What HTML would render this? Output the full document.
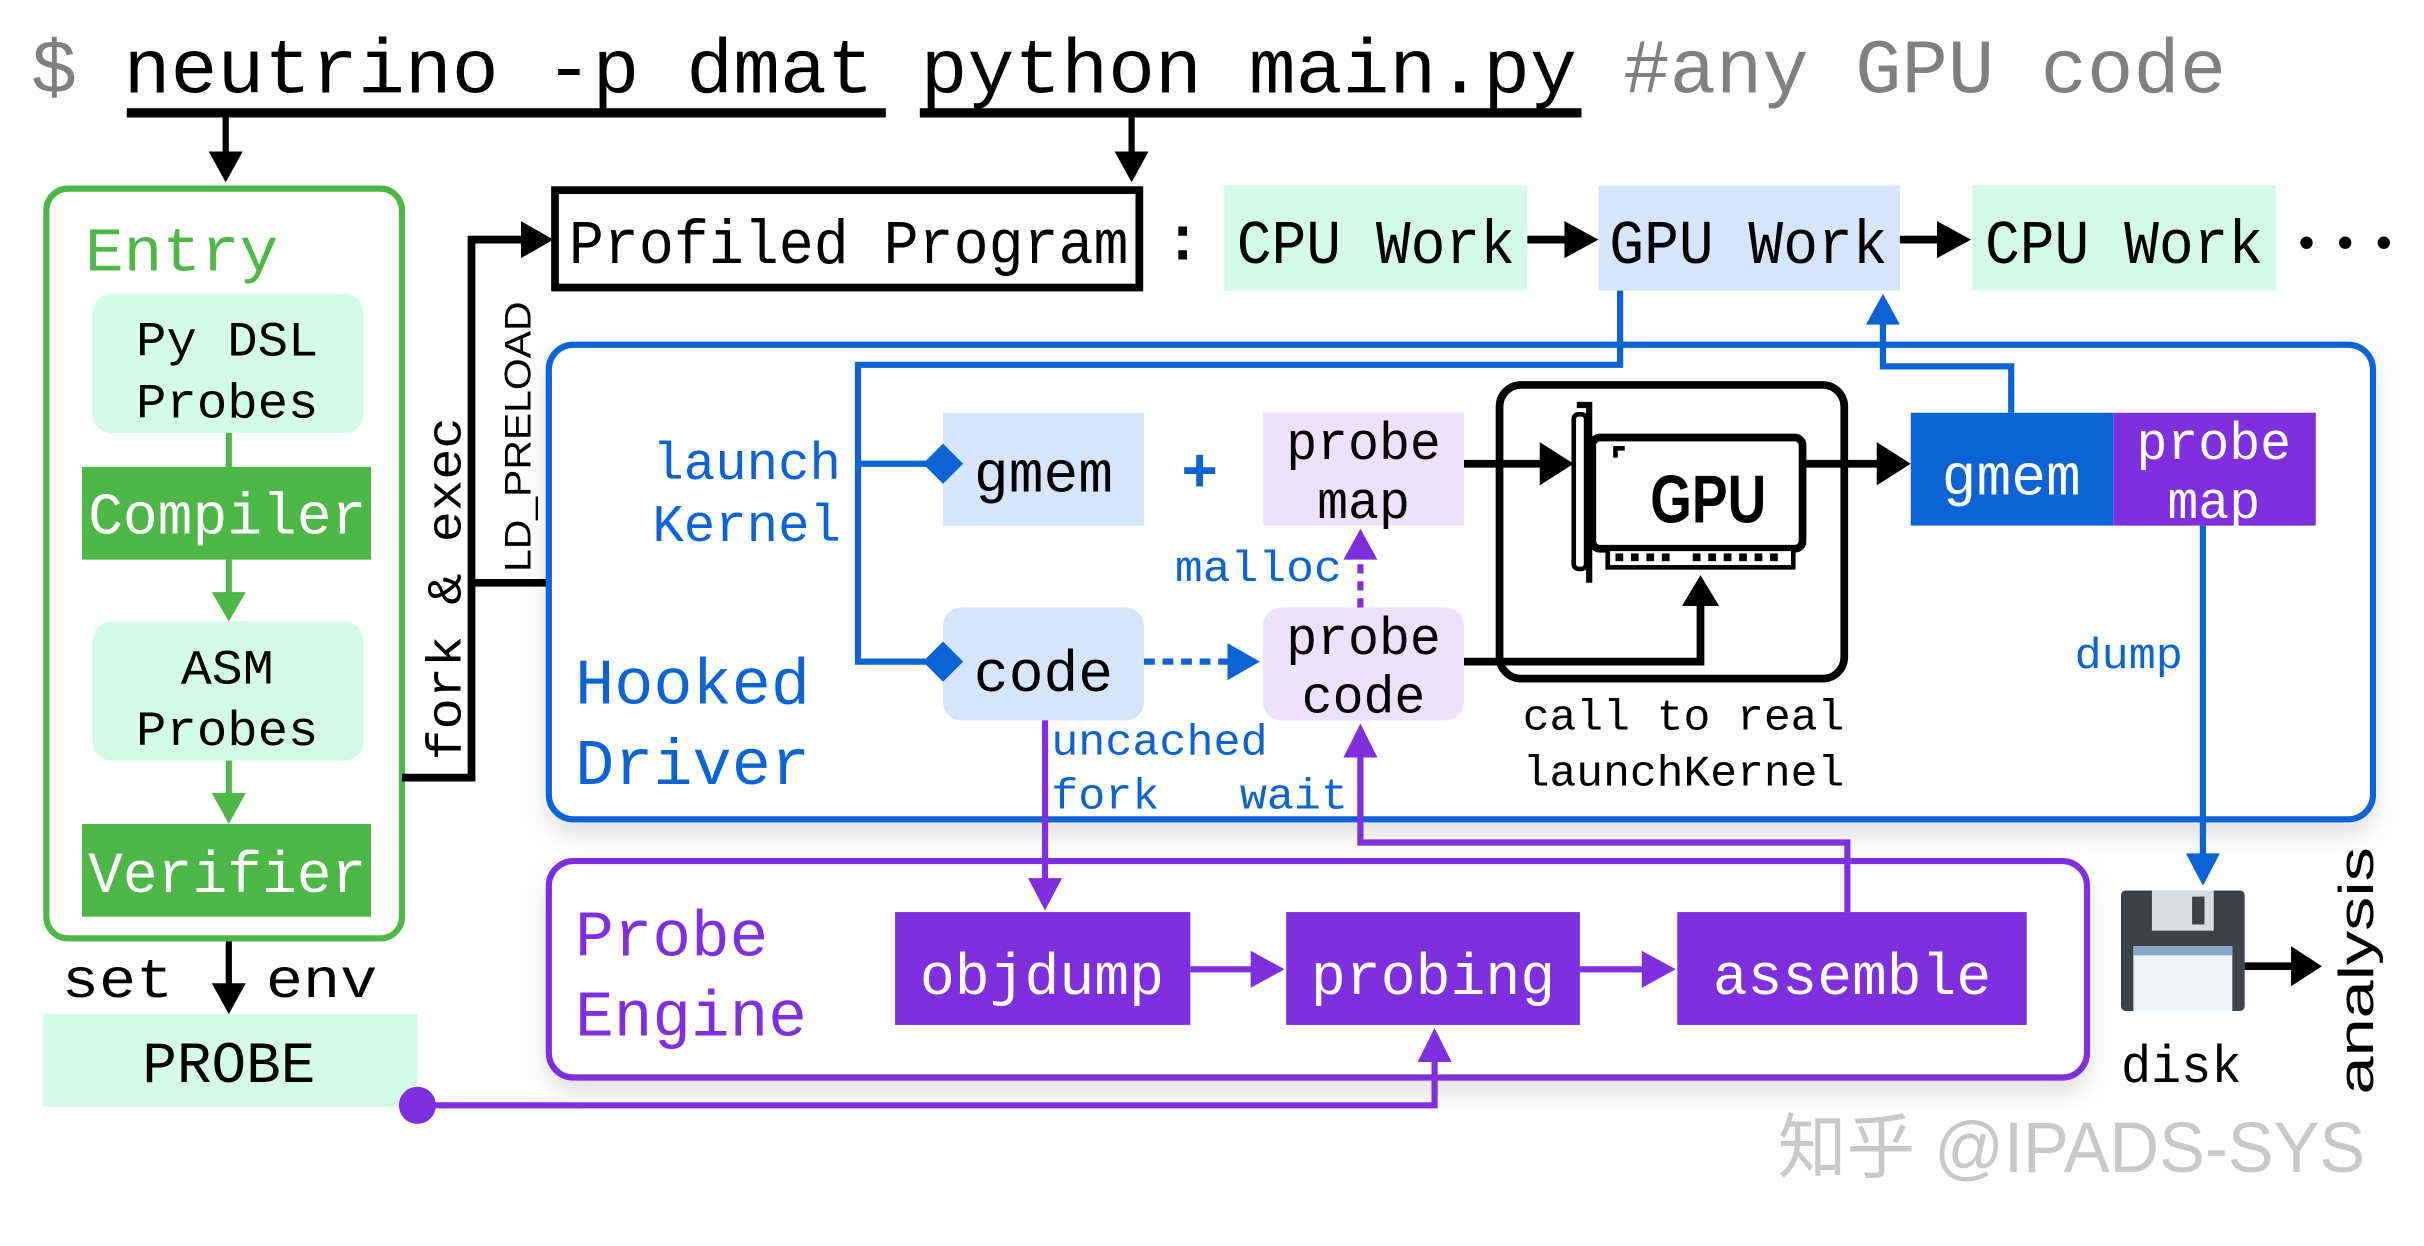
<!DOCTYPE html>
<html><head><meta charset="utf-8"><style>
html,body{margin:0;padding:0;background:#fff;}
svg{display:block;}
text{font-family:"Liberation Mono","DejaVu Sans Mono",monospace;}
</style></head><body>
<svg width="2424" height="1246" viewBox="0 0 1568 806" xmlns="http://www.w3.org/2000/svg">
<defs>
<filter id="sh" x="-5%" y="-5%" width="110%" height="120%"><feDropShadow dx="0" dy="8" stdDeviation="8" flood-color="#000" flood-opacity="0.12"/></filter>
</defs>
<!-- title -->
<text x="20" y="60" font-size="50" fill="#808080">$</text>
<text x="80" y="60" font-size="50" fill="#000" textLength="940" lengthAdjust="spacingAndGlyphs">neutrino -p dmat python main.py</text>
<text x="1050" y="60" font-size="50" fill="#808080" textLength="390" lengthAdjust="spacingAndGlyphs">#any GPU code</text>
<rect x="82" y="70" width="491" height="6" fill="#000"/>
<rect x="595" y="70" width="428" height="6" fill="#000"/>
<line x1="146" y1="76" x2="146" y2="100" stroke="#000" stroke-width="4"/>
<polygon points="135,98 157,98 146,118" fill="#000"/>
<line x1="732" y1="76" x2="732" y2="100" stroke="#000" stroke-width="4"/>
<polygon points="721,98 743,98 732,118" fill="#000"/>

<!-- Entry -->
<rect x="30" y="122" width="230" height="485" rx="14" fill="#fff" stroke="#4db748" stroke-width="4"/>
<text x="55" y="175" font-size="40" fill="#4db748" textLength="125" lengthAdjust="spacingAndGlyphs">Entry</text>
<rect x="60" y="190" width="175" height="90" rx="12" fill="#d4fbe9"/>
<text x="147" y="230" font-size="32" text-anchor="middle" textLength="118" lengthAdjust="spacingAndGlyphs">Py DSL</text>
<text x="147" y="270" font-size="32" text-anchor="middle" textLength="118" lengthAdjust="spacingAndGlyphs">Probes</text>
<line x1="148" y1="280" x2="148" y2="302" stroke="#4db748" stroke-width="4"/>
<rect x="53" y="302" width="187" height="60" fill="#4db748"/>
<text x="147" y="345" font-size="38" fill="#fff" text-anchor="middle" textLength="180" lengthAdjust="spacingAndGlyphs">Compiler</text>
<line x1="148" y1="362" x2="148" y2="385" stroke="#4db748" stroke-width="4"/>
<polygon points="137,383 159,383 148,402" fill="#4db748"/>
<rect x="60" y="402" width="175" height="90" rx="12" fill="#d4fbe9"/>
<text x="147" y="442" font-size="32" text-anchor="middle" textLength="60" lengthAdjust="spacingAndGlyphs">ASM</text>
<text x="147" y="482" font-size="32" text-anchor="middle" textLength="118" lengthAdjust="spacingAndGlyphs">Probes</text>
<line x1="148" y1="492" x2="148" y2="515" stroke="#4db748" stroke-width="4"/>
<polygon points="137,513 159,513 148,533" fill="#4db748"/>
<rect x="53" y="533" width="187" height="60" fill="#4db748"/>
<text x="147" y="577" font-size="38" fill="#fff" text-anchor="middle" textLength="180" lengthAdjust="spacingAndGlyphs">Verifier</text>

<text x="40" y="645" font-size="36" textLength="72" lengthAdjust="spacingAndGlyphs">set</text>
<text x="172" y="645" font-size="36" textLength="72" lengthAdjust="spacingAndGlyphs">env</text>
<line x1="148" y1="609" x2="148" y2="638" stroke="#000" stroke-width="4"/>
<polygon points="137,636 159,636 148,656" fill="#000"/>
<rect x="28" y="656" width="242" height="60" fill="#d4fbe9"/>
<text x="148" y="700" font-size="38" text-anchor="middle" textLength="112" lengthAdjust="spacingAndGlyphs">PROBE</text>

<!-- fork & exec -->
<polyline points="260,503 305,503 305,155 340,155" fill="none" stroke="#000" stroke-width="5"/>
<polygon points="337,143 358,155 337,167" fill="#000"/>
<line x1="305" y1="377" x2="356" y2="377" stroke="#000" stroke-width="5"/>
<text transform="translate(298,492) rotate(-90)" font-size="32" textLength="222" lengthAdjust="spacingAndGlyphs">fork &amp; exec</text>
<text transform="translate(343,370) rotate(-90)" font-size="24" style="font-family:'Liberation Sans',sans-serif" textLength="175" lengthAdjust="spacingAndGlyphs">LD_PRELOAD</text>

<!-- top row -->
<rect x="359" y="123" width="378" height="63" fill="#fff" stroke="#000" stroke-width="5"/>
<text x="368" y="170" font-size="40" textLength="362" lengthAdjust="spacingAndGlyphs">Profiled Program</text>
<text x="753" y="168" font-size="40" font-weight="bold">:</text>
<rect x="792" y="120" width="196" height="68" fill="#d4fbe9"/>
<text x="890" y="170" font-size="40" text-anchor="middle" textLength="180" lengthAdjust="spacingAndGlyphs">CPU Work</text>
<rect x="1034" y="120" width="195" height="68" fill="#d7e5fb"/>
<text x="1131" y="170" font-size="40" text-anchor="middle" textLength="180" lengthAdjust="spacingAndGlyphs">GPU Work</text>
<rect x="1276" y="120" width="196" height="68" fill="#d4fbe9"/>
<text x="1374" y="170" font-size="40" text-anchor="middle" textLength="180" lengthAdjust="spacingAndGlyphs">CPU Work</text>
<line x1="988" y1="155" x2="1015" y2="155" stroke="#000" stroke-width="5"/>
<polygon points="1012,143 1034,155 1012,167" fill="#000"/>
<line x1="1229" y1="155" x2="1256" y2="155" stroke="#000" stroke-width="5"/>
<polygon points="1253,143 1275,155 1253,167" fill="#000"/>
<circle cx="1492" cy="157" r="4"/><circle cx="1517" cy="157" r="4"/><circle cx="1542" cy="157" r="4"/>

<!-- Hooked Driver -->
<rect x="355" y="223" width="1180" height="307" rx="16" fill="#fff" stroke="#0b63d6" stroke-width="4" filter="url(#sh)"/>
<text x="372" y="455" font-size="42" fill="#0b63d6" textLength="152" lengthAdjust="spacingAndGlyphs">Hooked</text>
<text x="372" y="507" font-size="42" fill="#0b63d6" textLength="152" lengthAdjust="spacingAndGlyphs">Driver</text>
<text x="422" y="310" font-size="34" fill="#0b63d6" textLength="122" lengthAdjust="spacingAndGlyphs">launch</text>
<text x="422" y="350" font-size="34" fill="#0b63d6" textLength="122" lengthAdjust="spacingAndGlyphs">Kernel</text>
<polyline points="1048,188 1048,236 555,236 555,428 600,428" fill="none" stroke="#0b63d6" stroke-width="4"/>
<line x1="555" y1="300" x2="600" y2="300" stroke="#0b63d6" stroke-width="4"/>

<rect x="610" y="267" width="130" height="73" fill="#d7e5fb"/>
<text x="675" y="318" font-size="38" text-anchor="middle" textLength="90" lengthAdjust="spacingAndGlyphs">gmem</text>
<text x="776" y="318" font-size="40" fill="#0b63d6" text-anchor="middle" font-weight="bold">+</text>
<rect x="817" y="267" width="130" height="73" fill="#ede1fb"/>
<text x="882" y="297" font-size="34" text-anchor="middle" textLength="100" lengthAdjust="spacingAndGlyphs">probe</text>
<text x="882" y="335" font-size="34" text-anchor="middle" textLength="60" lengthAdjust="spacingAndGlyphs">map</text>
<text x="760" y="376" font-size="28" fill="#0b63d6" textLength="108" lengthAdjust="spacingAndGlyphs">malloc</text>
<line x1="880" y1="393" x2="880" y2="358" stroke="#7f2fdd" stroke-width="4" stroke-dasharray="6,5"/>
<polygon points="869,362 891,362 880,342" fill="#7f2fdd"/>

<rect x="610" y="393" width="130" height="73" rx="12" fill="#d7e5fb"/>
<text x="675" y="447" font-size="38" text-anchor="middle" textLength="90" lengthAdjust="spacingAndGlyphs">code</text>
<polygon points="597,300 610,287 623,300 610,313" fill="#0b63d6"/>
<polygon points="597,428 610,415 623,428 610,441" fill="#0b63d6"/>
<line x1="740" y1="428" x2="795" y2="428" stroke="#0b63d6" stroke-width="4" stroke-dasharray="7,5"/>
<polygon points="794,416 815,428 794,440" fill="#0b63d6"/>
<rect x="817" y="393" width="130" height="73" rx="12" fill="#ede1fb"/>
<text x="882" y="423" font-size="34" text-anchor="middle" textLength="100" lengthAdjust="spacingAndGlyphs">probe</text>
<text x="882" y="461" font-size="34" text-anchor="middle" textLength="80" lengthAdjust="spacingAndGlyphs">code</text>

<!-- GPU box -->
<rect x="970" y="249" width="223" height="190" rx="14" fill="#fff" stroke="#000" stroke-width="5"/>
<line x1="947" y1="300" x2="1000" y2="300" stroke="#000" stroke-width="5"/>
<polygon points="996,286 1018,300 996,314" fill="#000"/>
<path d="M1020,262 h8 v115" fill="none" stroke="#000" stroke-width="4"/>
<rect x="1018" y="268" width="8" height="100" rx="3" fill="none" stroke="#000" stroke-width="3"/>
<rect x="1030" y="283" width="136" height="72" rx="5" fill="#fff" stroke="#000" stroke-width="5"/>
<path d="M1045,296 v-6 h6" fill="none" stroke="#000" stroke-width="3"/>
<rect x="1040" y="355" width="120" height="12" fill="#fff" stroke="#000" stroke-width="3"/>
<g fill="#000"><rect x="1045" y="358" width="5" height="5"/><rect x="1055" y="358" width="5" height="5"/><rect x="1065" y="358" width="5" height="5"/><rect x="1075" y="358" width="5" height="5"/><rect x="1095" y="358" width="5" height="5"/><rect x="1105" y="358" width="5" height="5"/><rect x="1115" y="358" width="5" height="5"/><rect x="1125" y="358" width="5" height="5"/><rect x="1135" y="358" width="5" height="5"/><rect x="1145" y="358" width="5" height="5"/></g>
<text x="1105" y="338" font-size="44" font-weight="bold" text-anchor="middle" style="font-family:'Liberation Sans',sans-serif" textLength="75" lengthAdjust="spacingAndGlyphs">GPU</text>
<polyline points="947,428 1100,428 1100,390" fill="none" stroke="#000" stroke-width="5"/>
<polygon points="1088,392 1112,392 1100,372" fill="#000"/>
<line x1="1166" y1="300" x2="1218" y2="300" stroke="#000" stroke-width="5"/>
<polygon points="1214,286 1236,300 1214,314" fill="#000"/>
<text x="985" y="472" font-size="28" textLength="208" lengthAdjust="spacingAndGlyphs">call to real</text>
<text x="985" y="508" font-size="28" textLength="208" lengthAdjust="spacingAndGlyphs">launchKernel</text>

<rect x="1236" y="267" width="131" height="73" fill="#0b63d6"/>
<text x="1301" y="320" font-size="38" fill="#fff" text-anchor="middle" textLength="90" lengthAdjust="spacingAndGlyphs">gmem</text>
<rect x="1367" y="267" width="131" height="73" fill="#7f2fdd"/>
<text x="1432" y="297" font-size="34" fill="#fff" text-anchor="middle" textLength="100" lengthAdjust="spacingAndGlyphs">probe</text>
<text x="1432" y="335" font-size="34" fill="#fff" text-anchor="middle" textLength="60" lengthAdjust="spacingAndGlyphs">map</text>
<polyline points="1301,267 1301,237 1218,237 1218,205" fill="none" stroke="#0b63d6" stroke-width="4"/>
<polygon points="1207,210 1229,210 1218,190" fill="#0b63d6"/>
<text x="1342" y="432" font-size="28" fill="#0b63d6" textLength="70" lengthAdjust="spacingAndGlyphs">dump</text>
<line x1="1425" y1="340" x2="1425" y2="555" stroke="#0b63d6" stroke-width="4"/>
<polygon points="1414,552 1436,552 1425,573" fill="#0b63d6"/>

<text x="680" y="488" font-size="28" fill="#0b63d6" textLength="140" lengthAdjust="spacingAndGlyphs">uncached</text>
<text x="680" y="523" font-size="28" fill="#0b63d6" textLength="70" lengthAdjust="spacingAndGlyphs">fork</text>
<text x="802" y="523" font-size="28" fill="#0b63d6" textLength="70" lengthAdjust="spacingAndGlyphs">wait</text>

<!-- Probe Engine -->
<rect x="355" y="557" width="995" height="140" rx="16" fill="#fff" stroke="#7f2fdd" stroke-width="4" filter="url(#sh)"/>
<text x="372" y="618" font-size="42" fill="#7f2fdd" textLength="125" lengthAdjust="spacingAndGlyphs">Probe</text>
<text x="372" y="670" font-size="42" fill="#7f2fdd" textLength="150" lengthAdjust="spacingAndGlyphs">Engine</text>
<polyline points="676,466 676,570" fill="none" stroke="#7f2fdd" stroke-width="4"/>
<polygon points="665,568 687,568 676,589" fill="#7f2fdd"/>
<polyline points="1195,590 1195,545 880,545 880,488" fill="none" stroke="#7f2fdd" stroke-width="4"/>
<polygon points="869,490 891,490 880,468" fill="#7f2fdd"/>
<rect x="579" y="590" width="191" height="73" fill="#7f2fdd"/>
<text x="674" y="643" font-size="38" fill="#fff" text-anchor="middle" textLength="158" lengthAdjust="spacingAndGlyphs">objdump</text>
<rect x="832" y="590" width="190" height="73" fill="#7f2fdd"/>
<text x="927" y="643" font-size="38" fill="#fff" text-anchor="middle" textLength="158" lengthAdjust="spacingAndGlyphs">probing</text>
<rect x="1085" y="590" width="226" height="73" fill="#7f2fdd"/>
<text x="1198" y="643" font-size="38" fill="#fff" text-anchor="middle" textLength="180" lengthAdjust="spacingAndGlyphs">assemble</text>
<line x1="770" y1="627" x2="812" y2="627" stroke="#7f2fdd" stroke-width="4"/>
<polygon points="809,615 831,627 809,639" fill="#7f2fdd"/>
<line x1="1022" y1="627" x2="1065" y2="627" stroke="#7f2fdd" stroke-width="4"/>
<polygon points="1062,615 1084,627 1062,639" fill="#7f2fdd"/>
<circle cx="270" cy="715" r="12" fill="#7f2fdd"/>
<polyline points="270,715 928,715 928,683" fill="none" stroke="#7f2fdd" stroke-width="4"/>
<polygon points="917,687 939,687 928,665" fill="#7f2fdd"/>

<!-- disk -->
<rect x="1372" y="576" width="80" height="78" rx="3" fill="#3d4248"/>
<rect x="1392" y="576" width="40" height="26" fill="#d8dde3"/>
<rect x="1418" y="580" width="8" height="18" fill="#3d4248"/>
<rect x="1380" y="612" width="64" height="42" fill="#eef3f8"/>
<rect x="1380" y="612" width="64" height="6" fill="#8aa8c8"/>
<text x="1372" y="700" font-size="34" textLength="78" lengthAdjust="spacingAndGlyphs">disk</text>
<line x1="1452" y1="625" x2="1485" y2="625" stroke="#000" stroke-width="5"/>
<polygon points="1482,612 1502,625 1482,638" fill="#000"/>
<text transform="translate(1535,708) rotate(-90)" font-size="32" style="font-family:'Liberation Sans',sans-serif" textLength="160" lengthAdjust="spacingAndGlyphs">analysis</text>

<text x="1150" y="758" font-size="46" fill="#c8c8c8" style="font-family:'Liberation Sans','Noto Sans CJK SC',sans-serif" textLength="380" lengthAdjust="spacingAndGlyphs">知乎 @IPADS-SYS</text>
</svg>
</body></html>
